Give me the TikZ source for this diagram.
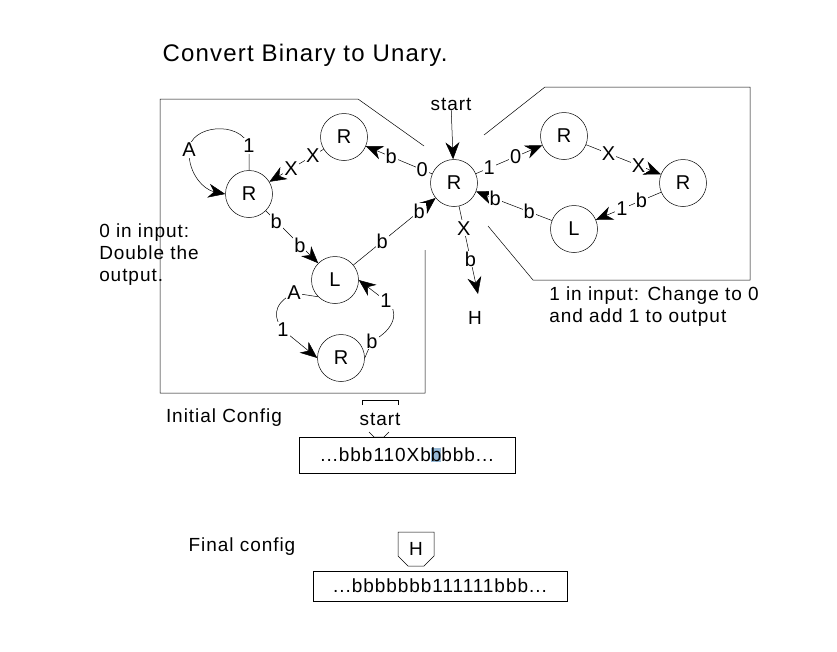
\documentclass[tikz,border=0pt]{standalone}
\usepackage{fontspec}
\setmainfont{Liberation Sans}[LetterSpace=5]
\usetikzlibrary{arrows.meta}
\begin{document}
\begin{tikzpicture}[x=1pt,y=-1pt,
  st/.style={circle,draw,minimum size=47pt,inner sep=0pt,font=\fontsize{20}{22}\selectfont},
  lb/.style={fill=white,inner sep=1pt,font=\fontsize{20}{22}\selectfont},
  tx/.style={font=\fontsize{19}{22}\selectfont,inner sep=0pt},
  ar/.style={-{Stealth[length=17pt,width=14pt]},line width=0.5pt},
  every path/.style={line width=0.5pt}]
\useasboundingbox (0,0) rectangle (837,651);
\node[tx,font=\fontsize{24}{28}\selectfont] (title) at (305,55) {Convert Binary to Unary.};
% boxes
\draw (424,146) -- (358,99) -- (160,99) -- (160,393) -- (425,393) -- (425,250);
\draw (484,135) -- (545,87) -- (750,87) -- (750,280) -- (533,280) -- (488,226);
% states
\node[st] (s0) at (454,183) {R};
\node[st] (a1) at (344,137) {R};
\node[st] (a2) at (249,194) {R};
\node[st] (a3) at (335,280) {L};
\node[st] (a4) at (341,358) {R};
\node[st] (b1) at (564,136) {R};
\node[st] (b2) at (683,183) {R};
\node[st] (b3) at (574,229) {L};
\node[tx] (h) at (475,318) {H};
\node[tx] (start) at (451,104) {start};
\draw[ar] (start) -- (s0);
% edges
\draw[ar] (s0) -- node[lb,pos=0.15]{0} node[lb,pos=0.62]{b} (a1);
\draw[ar] (a1) -- node[lb,pos=0.2]{X} node[lb,pos=0.6]{X} (a2);
\draw[ar] (a2) -- node[lb,pos=0.2]{b} node[lb,pos=0.65]{b} (a3);
\draw[ar] (a3) -- node[lb,pos=0.35]{b} node[lb,pos=0.8]{b} (s0);
\draw[ar] (a2.north) -- (249,146) node[lb]{1} .. controls (240,120) and (190,125) .. (189,150) node[lb]{A} .. controls (188,175) and (205,190) .. (a2.west);
\draw[ar] (a3.south west) -- (294,293) node[lb]{A} .. controls (270,305) and (275,320) .. (283,330) node[lb]{1} -- (a4.west);
\draw[ar] (a4.east) -- (372,341) node[lb]{b} .. controls (395,330) and (400,310) .. (386,301) node[lb]{1} -- (a3.east);
\draw[ar] (s0) -- node[lb,pos=0.2]{1} node[lb,pos=0.6]{0} (b1);
\draw[ar] (b1) -- node[lb,pos=0.3]{X} node[lb,pos=0.7]{X} (b2);
\draw[ar] (b2) -- node[lb,pos=0.3]{b} node[lb,pos=0.6]{1} (b3);
\draw[ar] (b3) -- node[lb,pos=0.3]{b} node[lb,pos=0.75]{b} (s0);
\draw[ar] (s0) -- node[lb,pos=0.25]{X} node[lb,pos=0.6]{b} (478,294) coordinate (he);
% texts
\node[tx,align=left,anchor=west] (t0) at (99,255) {0 in input:\\Double the\\output.};
\node[tx,align=left,anchor=west] (t1) at (549,307) {1 in input: Change to 0\\and add 1 to output};
\node[tx] (ic) at (224,418) {Initial Config};
\node[tx] (fc) at (242,547) {Final config};
% tape 1
\definecolor{hl}{RGB}{150,185,215}
\node[draw,minimum width=216pt,minimum height=36pt,inner sep=0pt,font=\fontsize{19}{22}\selectfont] (tape1) at (407,455) {...bbb110Xb{\setlength\fboxsep{0pt}\colorbox{hl}{b}}bbb...};
\node[tx] (h1) at (380,419) {start};
\draw (362,405) -- (362,400) -- (398,400) -- (398,405);
\draw (369,432) -- (374,437) -- (384,437) -- (389,432);
% tape 2
\node[draw,minimum width=254pt,minimum height=30pt,inner sep=0pt,font=\fontsize{19}{22}\selectfont] (tape2) at (440,586) {...bbbbbbb111111bbb...};
\draw (398,532) -- (434,532) -- (434,556) -- (424,566) -- (408,566) -- (398,556) -- cycle;
\node[tx] (h2) at (416,549) {H};
\end{tikzpicture}
\end{document}
